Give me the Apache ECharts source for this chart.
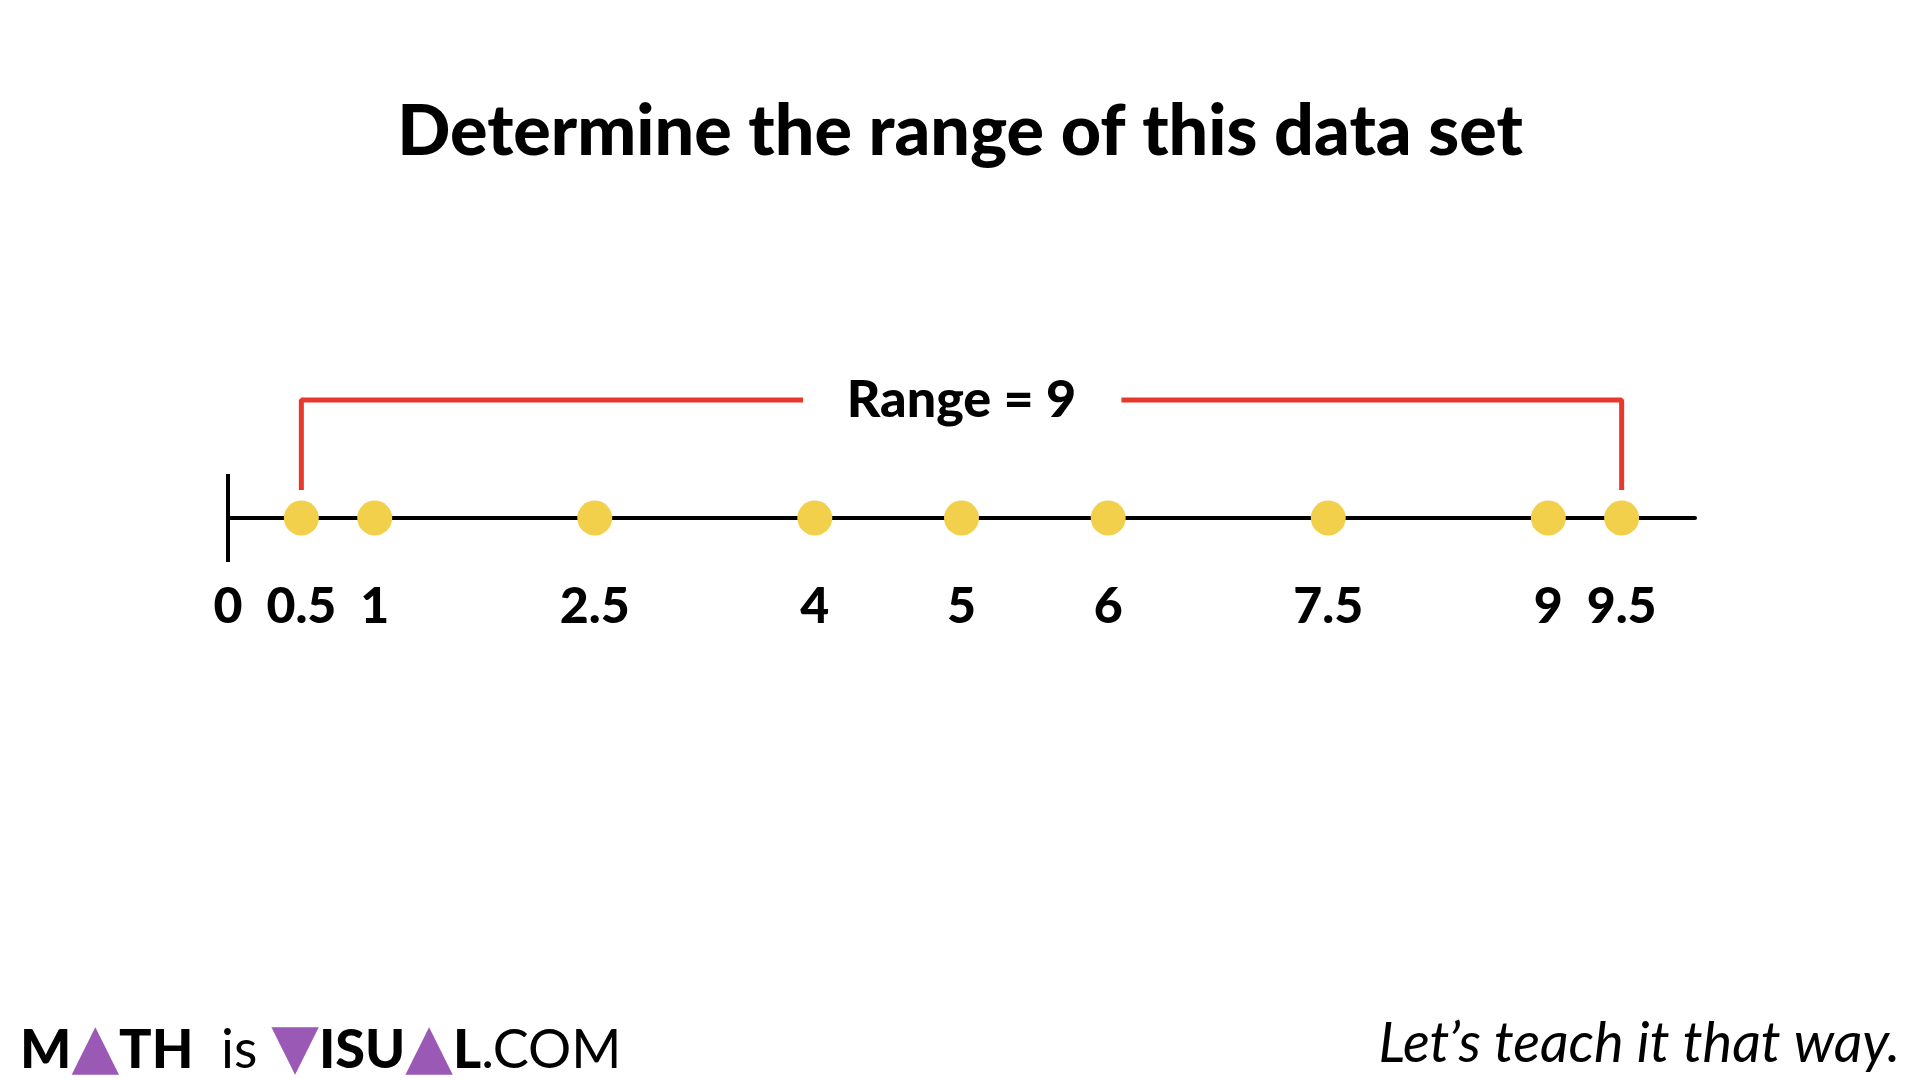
<!DOCTYPE html>
<html><head><meta charset="utf-8">
<script src="https://cdn.jsdelivr.net/npm/echarts@6/dist/echarts.min.js"></script>
<style>html,body{margin:0;padding:0;background:#fff}#c{width:1920px;height:1080px}</style>
</head><body><div id="c"></div>
<script>
const dataValues = [0.5, 1, 2.5, 4, 5, 6, 7.5, 9, 9.5];
const tickValues = [0, 0.5, 1, 2.5, 4, 5, 6, 7.5, 9, 9.5];
const rangeMin = 0.5, rangeMax = 9.5, rangeValue = 9;

const chart = echarts.init(document.getElementById('c'));
const F = 'Lato, "Open Sans", sans-serif';
chart.setOption({
  animation:false,
  title:{text:'Determine the range of this data set',left:'center',top:92,
    textStyle:{fontFamily:F,fontWeight:900,fontSize:70,color:'#000'}},
  grid:{left:228,width:1467,top:400,height:118},
  xAxis:{type:'value',min:0,max:10,splitLine:{show:false},axisTick:{show:false},
    axisLine:{show:true,lineStyle:{color:'#000',width:4}},
    axisLabel:{customValues:tickValues,margin:64,fontFamily:F,fontWeight:900,fontSize:50,color:'#000',
      formatter:v=>String(v),showMinLabel:true,showMaxLabel:true,hideOverlap:false}},
  yAxis:{type:'value',min:0,max:1,show:false},
  series:[
    {type:'line',clip:false,data:[[0,-0.373],[0,0.373]],symbol:'none',lineStyle:{color:'#000',width:4},z:1},
    {type:'line',clip:false,data:[[rangeMin,0.237],[rangeMin,1],[3.92,1]],symbol:'none',lineStyle:{color:'#e8372b',width:5},z:1},
    {type:'line',clip:false,data:[[6.09,1],[rangeMax,1],[rangeMax,0.237]],symbol:'none',lineStyle:{color:'#e8372b',width:5},z:1},
    {type:'scatter',clip:false,data:[[(rangeMin+rangeMax)/2,1]],symbolSize:1,itemStyle:{color:'rgba(0,0,0,0)'},
      label:{show:true,position:'inside',opacity:1,formatter:'Range = '+rangeValue,fontFamily:F,fontWeight:900,fontSize:52,color:'#000000',textBorderWidth:0}},
    {type:'scatter',clip:false,data:dataValues.map(v=>[v,0]),symbolSize:35,itemStyle:{color:'#f3d04b',opacity:1},z:3}
  ],
  graphic:[
    {type:'text',left:20,top:1020,style:{
      text:'{b|M}{p|▲}{b|TH}{n|  is }{p|▼}{b|ISU}{p|▲}{b|L}{n|.COM}',
      rich:{b:{fontFamily:F,fontWeight:900,fontSize:54,fill:'#000'},
            n:{fontFamily:F,fontSize:54,fill:'#000'},
            p:{fontFamily:'DejaVu Sans',fontSize:62,fill:'#9b59b6'}}}},
    {type:'text',right:20,top:1016,style:{text:'Let’s teach it that way.',
      font:'italic 400 56px '+F,fill:'#000'}}
  ]
});
</script></body></html>
